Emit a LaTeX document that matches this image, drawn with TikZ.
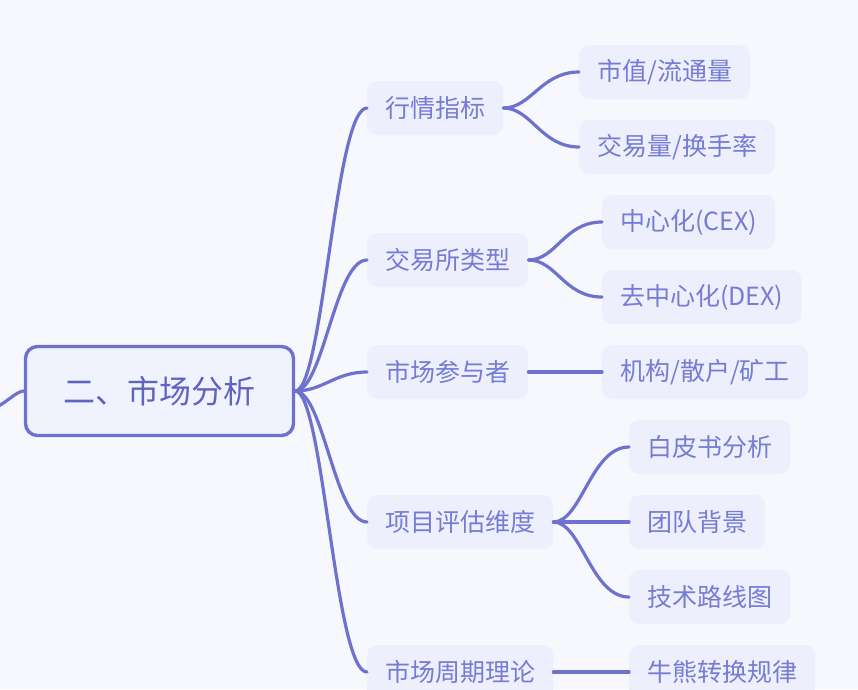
\documentclass[tikz,border=0pt]{standalone}
\usepackage{fontspec}
\setmainfont{Noto Sans CJK SC}
\usepackage{xcolor}
\definecolor{mapbg}{HTML}{F6F8FE}
\definecolor{mapline}{HTML}{6E72CE}
\definecolor{maptext}{HTML}{767BD4}
\definecolor{maproot}{HTML}{5F63C2}
\definecolor{mappill}{HTML}{EDF0FC}
\definecolor{maprootfill}{HTML}{F0F2FD}

\begin{document}
\begin{tikzpicture}[
        x=1pt, y=-1pt,
        root/.style={
            draw=mapline,
            line width=3.4pt,
            rounded corners=12pt,
            minimum width=268pt,
            minimum height=89pt,
            fill=maprootfill,
            text=maproot,
            font=\fontsize{32}{38}\selectfont
        },
        topic/.style={
            anchor=west,
            fill=mappill,
            rounded corners=10pt,
            inner xsep=18pt,
            minimum height=54pt,
            text=maptext,
            font=\fontsize{25}{30}\selectfont
        },
        branch/.style={draw=mapline, line width=3.2pt, line cap=round}
    ]
        \fill[mapbg] (0,0) rectangle (858,689);
        \useasboundingbox (0,0) rectangle (858,689);
        \coordinate (parent) at (-10,410);

        \node[root] (market) at (159.5,391) {二、市场分析};

        \node[topic] (quote) at (367,108) {行情指标};
        \node[topic] (exchange) at (367,260) {交易所类型};
        \node[topic] (players) at (367,372) {市场参与者};
        \node[topic] (project) at (367,522) {项目评估维度};
        \node[topic] (cycle) at (367,672) {市场周期理论};

        \node[topic] (cap) at (579,72) {市值/流通量};
        \node[topic] (volume) at (579,147) {交易量/换手率};
        \node[topic] (cex) at (602,222) {中心化(CEX)};
        \node[topic] (dex) at (602,297) {去中心化(DEX)};
        \node[topic] (holders) at (602,372) {机构/散户/矿工};
        \node[topic] (paper) at (629,447) {白皮书分析};
        \node[topic] (team) at (629,522) {团队背景};
        \node[topic] (roadmap) at (629,597) {技术路线图};
        \node[topic] (bullbear) at (629,672) {牛熊转换规律};

        \draw[branch] (parent) .. controls +(15,-5) and +(-8,0) .. (market.west);

        \draw[branch] (market.east) .. controls +(28,0) and +(-32,0) .. (quote.west);
        \draw[branch] (market.east) .. controls +(28,0) and +(-32,0) .. (exchange.west);
        \draw[branch] (market.east) .. controls +(28,0) and +(-32,0) .. (players.west);
        \draw[branch] (market.east) .. controls +(28,0) and +(-32,0) .. (project.west);
        \draw[branch] (market.east) .. controls +(28,0) and +(-32,0) .. (cycle.west);

        \draw[branch] (quote.east) .. controls +(28,0) and +(-38,0) .. (cap.west);
        \draw[branch] (quote.east) .. controls +(28,0) and +(-38,0) .. (volume.west);
        \draw[branch] (exchange.east) .. controls +(28,0) and +(-38,0) .. (cex.west);
        \draw[branch] (exchange.east) .. controls +(28,0) and +(-38,0) .. (dex.west);
        \draw[branch] (players.east) -- (holders.west);
        \draw[branch] (project.east) .. controls +(28,0) and +(-38,0) .. (paper.west);
        \draw[branch] (project.east) -- (team.west);
        \draw[branch] (project.east) .. controls +(28,0) and +(-38,0) .. (roadmap.west);
        \draw[branch] (cycle.east) -- (bullbear.west);
    \end{tikzpicture}
\end{document}
